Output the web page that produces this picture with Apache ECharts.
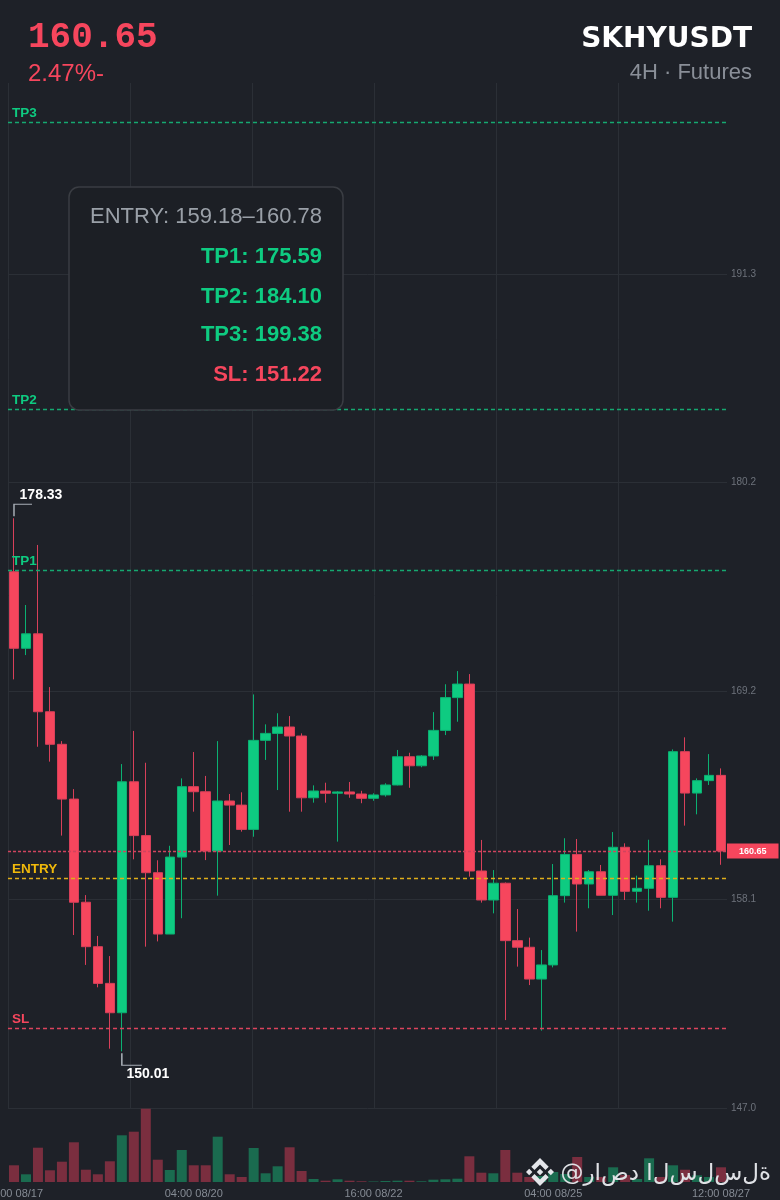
<!DOCTYPE html>
<html>
<head>
<meta charset="utf-8">
<script src="https://cdn.jsdelivr.net/npm/echarts@6/dist/echarts.min.js"></script>
<style>
html,body{margin:0;padding:0;background:#1e2128;}
#chart{width:780px;height:1200px;}
</style>
</head>
<body>
<div id="chart"></div>
<script>
// ---------- DATA ----------
const categories = [
  "16:00 08/17","20:00 08/17",
  "00:00 08/18","04:00 08/18","08:00 08/18","12:00 08/18","16:00 08/18","20:00 08/18",
  "00:00 08/19","04:00 08/19","08:00 08/19","12:00 08/19","16:00 08/19","20:00 08/19",
  "00:00 08/20","04:00 08/20","08:00 08/20","12:00 08/20","16:00 08/20","20:00 08/20",
  "00:00 08/21","04:00 08/21","08:00 08/21","12:00 08/21","16:00 08/21","20:00 08/21",
  "00:00 08/22","04:00 08/22","08:00 08/22","12:00 08/22","16:00 08/22","20:00 08/22",
  "00:00 08/23","04:00 08/23","08:00 08/23","12:00 08/23","16:00 08/23","20:00 08/23",
  "00:00 08/24","04:00 08/24","08:00 08/24","12:00 08/24","16:00 08/24","20:00 08/24",
  "00:00 08/25","04:00 08/25","08:00 08/25","12:00 08/25","16:00 08/25","20:00 08/25",
  "00:00 08/26","04:00 08/26","08:00 08/26","12:00 08/26","16:00 08/26","20:00 08/26",
  "00:00 08/27","04:00 08/27","08:00 08/27","12:00 08/27"
];
const opens  = [175.49,171.42,172.19,168.05,166.32,163.41,157.93,155.57,153.62,152.06,
                164.33,161.47,159.50,156.24,160.33,164.07,163.80,160.65,163.31,163.09,
                161.80,166.53,166.90,167.24,166.76,163.48,163.84,163.72,163.79,163.68,
                163.45,163.63,164.16,165.66,165.18,165.70,167.06,168.80,169.52,159.59,
                158.05,158.94,155.89,155.54,153.85,154.60,158.28,160.47,158.90,159.55,
                158.30,160.85,158.51,158.67,159.87,158.19,165.93,163.73,164.39,164.67];
const closes = [171.42,172.19,168.05,166.32,163.41,157.93,155.57,153.62,152.06,164.33,
                161.47,159.50,156.24,160.33,164.07,163.80,160.65,163.31,163.09,161.80,
                166.53,166.90,167.24,166.76,163.48,163.84,163.72,163.79,163.68,163.45,
                163.63,164.16,165.66,165.18,165.70,167.06,168.80,169.52,159.59,158.05,
                158.94,155.89,155.54,153.85,154.60,158.28,160.47,158.90,159.55,158.30,
                160.85,158.51,158.67,159.87,158.19,165.93,163.73,164.39,164.67,160.65];
const lows   = [169.77,171.06,166.19,165.40,161.47,156.19,154.60,153.41,150.15,150.01,
                160.21,155.57,155.85,156.24,157.08,162.74,160.17,158.28,160.97,161.68,
                161.41,165.49,163.89,162.74,162.74,163.22,163.22,161.15,163.48,163.19,
                163.32,163.54,164.14,164.01,165.10,165.49,166.81,167.52,159.29,157.91,
                157.34,151.67,154.51,153.53,151.11,154.47,157.91,156.37,157.61,158.30,
                157.25,158.05,157.91,157.48,157.61,156.90,162.00,162.60,164.16,159.92];
const highs  = [178.33,173.72,176.91,169.36,166.49,163.94,158.31,156.14,155.07,165.27,
                167.03,165.34,160.16,160.93,164.51,165.91,164.64,166.49,163.68,163.77,
                168.97,167.38,167.97,167.82,166.90,164.14,164.28,163.83,164.32,163.85,
                163.72,164.25,166.02,165.87,165.75,168.03,169.51,170.21,170.05,161.24,
                159.64,158.98,157.57,156.05,155.39,159.96,161.33,161.29,159.64,159.91,
                161.66,161.06,159.34,161.25,160.21,166.05,166.69,164.51,165.80,165.04];
const volumes = [167,77,343,117,203,397,123,77,207,467,
                 503,733,223,120,320,167,167,453,77,50,
                 340,87,157,347,110,30,13,27,13,7,
                 5,10,13,13,7,23,27,33,257,93,
                 87,320,93,50,60,100,80,250,50,50,
                 147,70,30,237,50,167,123,67,50,147];

const yTickLabels = ["147.0","158.1","169.2","180.2","191.3"];
const xLabelIndices = [0,15,30,45,59];

const levelNames  = ["TP3","TP2","TP1","ENTRY","SL"];
const levelValues = [199.38,184.10,175.59,159.18,151.22];
const entryRange  = [159.18,160.78];

const symbolName = "SKHYUSDT";
const subTitle = "4H · Futures";
const changeText = "2.47%-";
const watermark = "@راصد السلسلة";

// ---------- STYLE ----------
const UP = '#0ecb81', DOWN = '#f6465d';
const UP_VOL = '#1a6b4f', DOWN_VOL = '#7a2e3f';
const GRID = '#2b2f36';
const yMin = 147.0, yMax = 201.45, yStep = 11.075;

const lastPrice = closes[closes.length - 1];
const ohlc = opens.map((o, i) => [o, closes[i], lows[i], highs[i]]);
const volData = volumes.map((v, i) => ({
  value: v,
  itemStyle: { color: closes[i] >= opens[i] ? UP_VOL : DOWN_VOL }
}));

const levelColor = {
  TP3: { line: '#16a870', text: UP },
  TP2: { line: '#16a870', text: UP },
  TP1: { line: '#16a870', text: UP },
  ENTRY: { line: '#e0ae1a', text: '#f0b90b' },
  SL: { line: '#dc445d', text: DOWN }
};

const markLineData = levelNames.map((n, i) => ({
  yAxis: levelValues[i],
  lineStyle: { color: levelColor[n].line, type: [4, 3], width: 1.4, opacity: 1 },
  label: {
    show: true, formatter: n, position: 'insideStartTop', distance: 2,
    color: levelColor[n].text, fontSize: 13.5, fontWeight: 'bold',
    fontFamily: 'Liberation Sans', padding: [0, 0, 0, 2]
  }
}));
markLineData.push({
  yAxis: lastPrice,
  lineStyle: { color: '#d0445e', type: [3, 2], width: 1.3, opacity: 1 },
  label: {
    show: true, position: 'end', distance: 0,
    formatter: lastPrice.toFixed(2),
    backgroundColor: DOWN, color: '#ffffff', fontSize: 9, fontWeight: 'bold',
    fontFamily: 'Liberation Sans', padding: [3, 12, 3, 12]
  }
});

const wmText = '\u202D' + Array.from(watermark).join('\u200C') + '\u202C';

const tipRows = [
  { text: 'ENTRY: ' + entryRange[0].toFixed(2) + '\u2013' + entryRange[1].toFixed(2), color: '#9aa0a8', bold: false },
  { text: 'TP1: ' + levelValues[2].toFixed(2), color: UP, bold: true },
  { text: 'TP2: ' + levelValues[1].toFixed(2), color: UP, bold: true },
  { text: 'TP3: ' + levelValues[0].toFixed(2), color: UP, bold: true },
  { text: 'SL: ' + levelValues[4].toFixed(2), color: DOWN, bold: true }
];
const tipY = [216.5, 257, 296.5, 335, 375];

// logo shapes (126-unit box)
const logoShapes = [
  [[38.2,53.6],[63,28.8],[87.8,53.6],[102.2,39.2],[63,0],[23.8,39.2]],
  [[0,63],[14.4,48.6],[28.8,63],[14.4,77.4]],
  [[97.2,63],[111.6,48.6],[126,63],[111.6,77.4]],
  [[77.6,63],[63,48.4],[48.4,63],[63,77.6]],
  [[38.2,72.4],[63,97.2],[87.8,72.4],[102.2,86.8],[63,126],[23.8,86.8]]
];
const logoX = 526, logoY = 1158, logoS = 28 / 126;
const logoGraphics = logoShapes.map(pts => ({
  type: 'polygon', z: 110,
  shape: { points: pts.map(p => [logoX + p[0] * logoS, logoY + p[1] * logoS]) },
  style: { fill: '#e4e6ea' }
}));

const chart = echarts.init(document.getElementById('chart'), null, { renderer: 'canvas' });

const option = {
  backgroundColor: '#1e2128',
  animation: false,
  textStyle: { fontFamily: 'Liberation Sans' },
  grid: [
    { left: 8, right: 53, top: 83, height: 1025, containLabel: false, outerBoundsMode: 'none' },
    { left: 8, right: 53, top: 1108, height: 74, containLabel: false, outerBoundsMode: 'none' }
  ],
  xAxis: [
    { type: 'category', gridIndex: 0, data: categories, boundaryGap: true,
      axisLine: { show: false }, axisTick: { show: false }, axisLabel: { show: false },
      splitLine: { show: false } },
    { type: 'value', gridIndex: 0, min: 0, max: 719, interval: 122, position: 'top',
      axisLine: { show: false }, axisTick: { show: false }, axisLabel: { show: false },
      splitLine: { show: true, showMaxLine: false, lineStyle: { color: GRID, width: 1 } } },
    { type: 'category', gridIndex: 1, data: categories, boundaryGap: true,
      axisLine: { show: false }, axisTick: { show: false }, splitLine: { show: false },
      axisLabel: {
        show: true, color: '#858b94', fontSize: 11, margin: 6,
        alignMinLabel: 'center', alignMaxLabel: 'center', hideOverlap: false,
        interval: (idx) => xLabelIndices.includes(idx)
      } }
  ],
  yAxis: [
    { type: 'value', gridIndex: 0, position: 'right', min: yMin, max: yMax, interval: yStep,
      axisLine: { show: false }, axisTick: { show: false },
      axisLabel: {
        color: '#6d727b', fontSize: 10, margin: 4, showMaxLabel: false,
        formatter: (v) => {
          const k = Math.round((v - yMin) / yStep);
          if (Math.abs(v - (yMin + k * yStep)) > 0.01) return '';
          return yTickLabels[k] || '';
        }
      },
      splitLine: { show: true, showMaxLine: false, lineStyle: { color: GRID, width: 1 } } },
    { type: 'value', gridIndex: 1, min: 0, max: 740, show: false }
  ],
  series: [
    {
      type: 'candlestick', xAxisIndex: 0, yAxisIndex: 0, data: ohlc, barWidth: 10,
      itemStyle: { color: UP, color0: DOWN, borderColor: '#0bb072', borderColor0: '#d8405a', borderWidth: 1 },
      markLine: { silent: true, symbol: ['none', 'none'], animation: false, data: markLineData },
      markPoint: {
        silent: true, animation: false,
        data: [
          { type: 'max', valueDim: 'highest',
            symbol: 'path://M0 12 L0 0 L18 0', symbolSize: [18, 12], symbolOffset: [9, -8],
            itemStyle: { color: 'rgba(0,0,0,0)', borderColor: '#a9afb7', borderWidth: 1.2 },
            label: { show: true, position: 'top', offset: [18, 3], color: '#ffffff', fontSize: 14,
                     fontWeight: 'bold', formatter: (p) => Number(p.value).toFixed(2) } },
          { type: 'min', valueDim: 'lowest',
            symbol: 'path://M0 0 L0 12 L20 12', symbolSize: [20, 12], symbolOffset: [10, 8],
            itemStyle: { color: 'rgba(0,0,0,0)', borderColor: '#a9afb7', borderWidth: 1.2 },
            label: { show: true, position: 'bottom', offset: [16, -4], color: '#ffffff', fontSize: 14,
                     fontWeight: 'bold', formatter: (p) => Number(p.value).toFixed(2) } }
        ]
      }
    },
    {
      type: 'bar', xAxisIndex: 2, yAxisIndex: 1, data: volData, barWidth: 10
    }
  ],
  graphic: [
    { type: 'text', z: 100, style: { text: lastPrice.toFixed(2), x: 28, y: 38, verticalAlign: 'middle',
      font: 'bold 36px "Liberation Mono"', fill: DOWN } },
    { type: 'text', z: 100, style: { text: changeText, x: 28, y: 74, verticalAlign: 'middle',
      font: '24px "Liberation Sans"', fill: DOWN } },
    { type: 'text', z: 100, style: { text: symbolName, x: 752, y: 40, align: 'right', verticalAlign: 'middle',
      font: 'bold 28px "DejaVu Sans"', fill: '#ffffff' } },
    { type: 'text', z: 100, style: { text: subTitle, x: 752, y: 73, align: 'right', verticalAlign: 'middle',
      font: '22px "Liberation Sans"', fill: '#8a8f98' } },
    { type: 'rect', z: 100, shape: { x: 69, y: 187, width: 274, height: 223, r: 10 },
      style: { fill: '#1c1f25', stroke: '#3a3d43', lineWidth: 1.5 } }
  ].concat(tipRows.map((r, i) => ({
    type: 'text', z: 101, style: { text: r.text, x: 322, y: tipY[i], align: 'right', verticalAlign: 'middle',
      font: (r.bold ? 'bold ' : '') + '22px "Liberation Sans"', fill: r.color }
  }))).concat(logoGraphics).concat([
    { type: 'text', z: 110, style: { text: wmText, x: 771, y: 1174, align: 'right', verticalAlign: 'middle',
      font: '23px "DejaVu Sans"', fill: '#dfe1e5' } }
  ])
};
chart.setOption(option);
</script>
</body>
</html>
